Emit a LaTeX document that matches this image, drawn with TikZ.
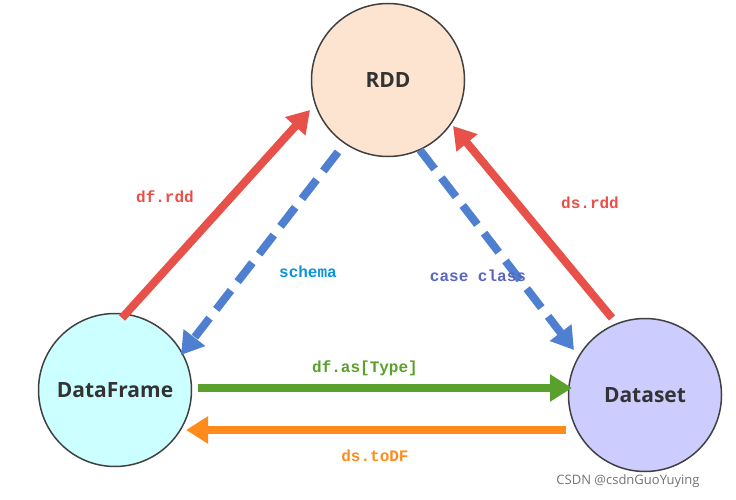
\documentclass[tikz,border=0pt]{standalone}
\usepackage{fontspec}
\setmainfont{Open Sans}
\newfontfamily\monof{Liberation Mono}
\usetikzlibrary{arrows.meta}
\definecolor{rddc}{HTML}{FDE4D0}
\definecolor{dfc}{HTML}{CCFFFF}
\definecolor{dsc}{HTML}{CCCCFF}
\definecolor{redc}{HTML}{E8504A}
\definecolor{bluec}{HTML}{4F7FD0}
\definecolor{greenc}{HTML}{5AA02C}
\definecolor{orangec}{HTML}{FF8C1A}
\begin{document}
\begin{tikzpicture}[x=1pt,y=-1pt,
  ent/.style={circle,draw=black!75,line width=1.5pt,minimum size=153pt,inner sep=0pt,font=\fontsize{21}{24}\selectfont\bfseries,text=black!80},
  arr/.style={line width=8pt,-{Triangle[length=22pt,width=26pt]}},
  lbl/.style={font=\monof\fontsize{16}{18}\selectfont\bfseries}]
\useasboundingbox (0,0) rectangle (736,500);
\node[ent,fill=rddc] (rdd) at (388,80) {RDD};
\node[ent,fill=dfc] (df) at (115,390) {DataFrame};
\node[ent,fill=dsc] (ds) at (645,395) {Dataset};
\coordinate (a1) at (122,318); \coordinate (a2) at (310,110);
\coordinate (b1) at (338,152); \coordinate (b2) at (181,355);
\coordinate (c1) at (420,150); \coordinate (c2) at (574,350);
\coordinate (d1) at (612,318); \coordinate (d2) at (453,126);
\coordinate (e1) at (198,388); \coordinate (e2) at (572,388);
\coordinate (f1) at (566,430); \coordinate (f2) at (186,430);
\draw[arr,redc] (a1) -- (a2);
\draw[arr,bluec,dash pattern=on 24pt off 11pt] (b1) -- (b2);
\draw[arr,bluec,dash pattern=on 24pt off 11pt] (c1) -- (c2);
\draw[arr,redc] (d1) -- (d2);
\draw[arr,greenc] (e1) -- (e2);
\draw[arr,orangec] (f1) -- (f2);
\node[lbl,text=redc] (l1) at (165,197) {df.rdd};
\node[lbl,text=cyan!80!blue] (l2) at (308,272) {schema};
\node[lbl,text=bluec!80!violet] (l3) at (478,276) {case class};
\node[lbl,text=redc] (l4) at (590,203) {ds.rdd};
\node[lbl,text=greenc] (l5) at (365,368) {df.as[Type]};
\node[lbl,text=orangec] (l6) at (375,456) {ds.toDF};
\node[font=\fontsize{13}{15}\selectfont,text=black!55] (w) at (628,481) {CSDN @csdnGuoYuying};
\end{tikzpicture}
\end{document}
